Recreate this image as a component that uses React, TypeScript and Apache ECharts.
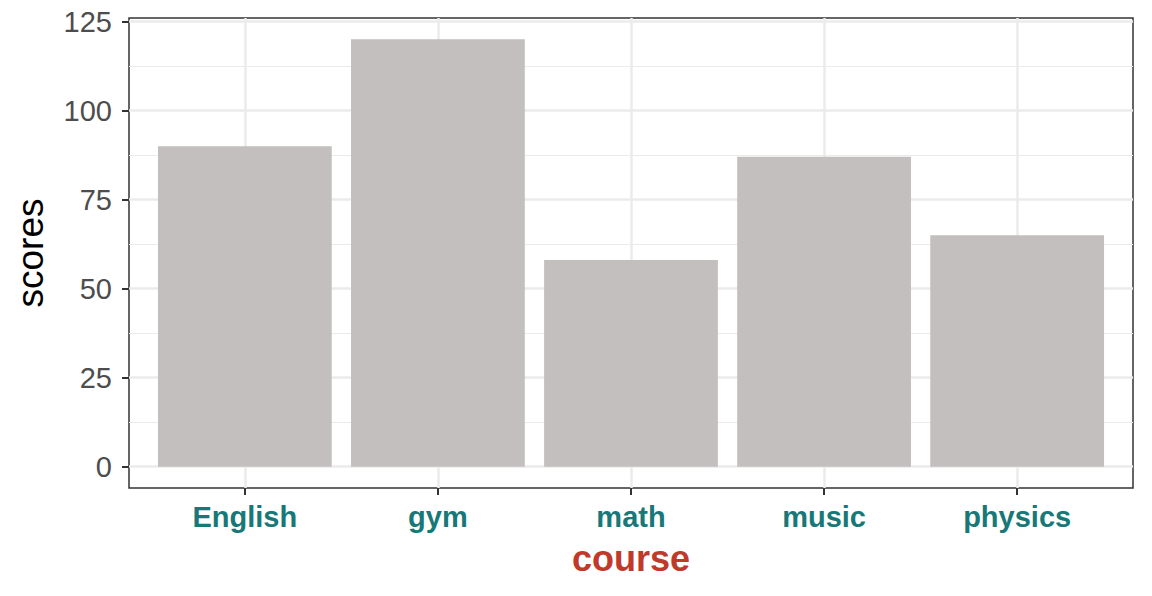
import React, { useEffect, useRef } from "react";
import * as echarts from "echarts";

const categories = ["English", "gym", "math", "music", "physics"];
const scores = [90, 120, 58, 87, 65];
const yTicks = [0, 25, 50, 75, 100, 125];
const yMinorTicks = [12.5, 37.5, 62.5, 87.5, 112.5];
const xTicks = categories.map((_, i) => i);

const FONT = "'Liberation Sans', Arial, Helvetica, sans-serif";

export default function App() {
  const ref = useRef<HTMLDivElement>(null);
  useEffect(() => {
    if (!ref.current) return;
    const chart = echarts.init(ref.current, null, { renderer: "svg" });
    chart.setOption({
      animation: false,
      backgroundColor: "#ffffff",
      textStyle: { fontFamily: FONT },
      grid: {
        left: 129,
        right: 19,
        top: 18,
        bottom: 108,
        show: true,
        borderColor: "#333333",
        borderWidth: 1.5,
        backgroundColor: "#ffffff",
        containLabel: false,
      },
      xAxis: {
        type: "value",
        min: -0.6,
        max: 4.6,
        name: "course",
        nameLocation: "middle",
        nameGap: 52,
        nameTextStyle: { color: "#C0392B", fontSize: 36, fontWeight: "bold", fontFamily: FONT },
        axisLine: { show: false, onZero: false },
        axisTick: { show: true, length: 7, customValues: xTicks, lineStyle: { color: "#333333", width: 2 } },
        axisLabel: {
          customValues: xTicks,
          margin: 14,
          color: "#187878",
          fontSize: 29,
          fontWeight: "bold",
          fontFamily: FONT,
          formatter: (v: number) => categories[Math.round(v)] ?? "",
        },
        splitLine: { show: true, customValues: xTicks, lineStyle: { color: "#EBEBEB", width: 2.5 } },
      },
      yAxis: [
        {
          type: "value",
          min: -6,
          max: 126,
          name: "scores",
          nameLocation: "middle",
          nameGap: 80,
          nameRotate: 90,
          nameTextStyle: { color: "#000000", fontSize: 37, fontFamily: FONT },
          axisLine: { show: false, onZero: false },
          axisTick: { show: true, length: 7, customValues: yTicks, lineStyle: { color: "#333333", width: 2 } },
          axisLabel: {
            customValues: yTicks,
            margin: 17,
            color: "#4D4D4D",
            fontSize: 29,
            fontFamily: FONT,
          },
          splitLine: { show: true, customValues: yTicks, lineStyle: { color: "#EBEBEB", width: 2.5 } },
        },
        {
          type: "value",
          min: -6,
          max: 126,
          position: "left",
          axisLine: { show: false, onZero: false },
          axisTick: { show: false, customValues: yMinorTicks },
          axisLabel: { show: false, customValues: yMinorTicks },
          splitLine: { show: true, customValues: yMinorTicks, lineStyle: { color: "#EBEBEB", width: 1.2 } },
        },
      ],
      series: [
        {
          type: "bar",
          xAxisIndex: 0,
          yAxisIndex: 0,
          data: scores.map((v, i) => [i, v]),
          barWidth: "90%",
          itemStyle: { color: "#C2BFBE" },
        },
      ],
    });
    return () => chart.dispose();
  }, []);
  return (
    <div
      ref={ref}
      style={{ position: "fixed", left: 0, top: 0, width: 1152, height: 596, background: "#fff" }}
    />
  );
}
